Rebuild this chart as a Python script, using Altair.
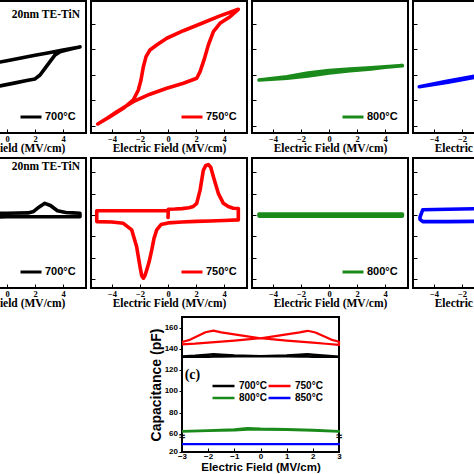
import altair as alt
import pandas as pd

SERIF = "Liberation Serif"
SANS = "Liberation Sans"

TEMPS = ["700°C", "750°C", "800°C", "850°C"]
COLORS = ["#000000", "#ff0000", "#1a8a1a", "#0000ff"]

# ---------------- P-E hysteresis loops (E in MV/cm, P in uC/cm^2) ----------------
# each loop is traced up the lower branch and back down the upper branch
PE700_E = [-5.2, -4.0, -3.0, -2.0, -1.0, -0.5, 0.5, 1.5, 2.0, 2.36, 2.71, 3.07, 3.43, 3.79, 4.26, 4.7, 5.21,
           4.0, 3.0, 2.0, 1.0, 0.0, -0.5, -1.5, -2.2, -2.6, -3.0, -3.4, -3.8, -4.5, -5.2]
PE700_P = [-20.0, -17.0, -14.5, -12.0, -9.7, -8.6, -6.4, -4.2, -3.1, 0.0, 5.2, 10.4, 15.7, 18.3, 19.6, 20.8, 22.0,
           19.5, 17.4, 15.4, 13.3, 11.2, 10.2, 7.5, 4.0, -1.0, -6.0, -11.0, -14.5, -17.5, -20.0]

PE750_E = [-5.02, -4.3, -3.66, -2.48, -1.29, -0.09, 1.1, 2.05, 2.29, 2.57, 2.88, 3.24, 3.71, 4.43, 5.02,
           3.71, 2.29, 1.1, -0.09, -0.81, -1.29, -1.57, -1.76, -1.93, -2.12, -2.48, -3.19, -4.14, -5.02]
PE750_P = [-38.4, -33.5, -28.8, -20.9, -15.1, -10.4, -6.5, -2.6, 2.6, 11.8, 23.5, 34.0, 40.5, 45.7, 51.5,
           46.3, 40.0, 34.7, 28.8, 23.5, 19.6, 14.4, 6.5, -3.9, -11.8, -19.6, -26.1, -32.7, -38.4]

PE800_E = [-5.0, -3.0, -1.5, 0.0, 1.5, 3.0, 4.0, 5.24, 4.0, 3.0, 1.5, 0.0, -1.5, -3.0, -5.0]
PE800_P = [-3.9, -2.6, -0.8, 1.6, 3.3, 4.8, 6.0, 7.3, 6.4, 5.6, 4.6, 3.4, 1.5, -1.5, -3.9]

PE850_E = [-5.05, -3.0, -1.0, 1.0, 3.0, 5.0, 3.0, 1.0, -1.0, -3.0, -5.05]
PE850_P = [-9.2, -5.6, -1.6, 2.6, 6.8, 10.8, 7.4, 3.4, -0.8, -4.8, -9.2]

# ---------------- switching current I-E (arb. units) ----------------
IE700_E = [-5.2, -4.0, -2.0, 0.0, 1.5, 1.9, 2.3, 2.7, 3.1, 3.6, 4.2, 4.7, 5.21,
           5.21, 4.0, 2.0, 0.0, -1.5, -1.9, -2.3, -2.7, -3.1, -3.6, -4.2, -5.2, -5.2]
IE700_I = [0.08, 0.08, 0.08, 0.08, 0.1, 0.17, 0.38, 0.55, 0.45, 0.2, 0.12, 0.1, 0.08,
           -0.08, -0.08, -0.08, -0.08, -0.1, -0.17, -0.38, -0.55, -0.45, -0.2, -0.12, -0.08, 0.08]

IE750_E = [0.0, 0.02, 0.5, 1.0, 1.5, 1.8, 2.05, 2.29, 2.52, 2.7, 2.88, 3.05, 3.24, 3.59, 3.95, 4.3, 4.66, 5.02,
           5.02, 4.0, 3.0, 2.0, 1.0, 0.0, -0.5, -0.81, -1.0, -1.16, -1.35, -1.52, -1.65, -1.76, -1.88, -2.0,
           -2.24, -2.59, -3.19, -4.0, -5.09, -5.09, -4.0, -2.0, -0.02]
IE750_I = [-0.12, 0.27, 0.28, 0.3, 0.34, 0.4, 0.55, 1.17, 2.1, 2.33, 2.37, 2.25, 1.8, 1.02, 0.55, 0.4, 0.32, 0.31,
           -0.23, -0.26, -0.28, -0.3, -0.33, -0.37, -0.45, -0.7, -1.1, -1.64, -2.2, -2.58, -2.85, -2.97, -2.85, -2.43,
           -1.49, -0.7, -0.39, -0.33, -0.31, 0.2, 0.2, 0.2, 0.2]

IE800_E = [-5.0, 0.0, 5.24, 5.24, 0.0, -5.0, -5.0]
IE800_I = [0.05, 0.05, 0.05, -0.05, -0.05, -0.05, 0.05]

IE850_E = [-5.0, -4.8, -3.0, -1.0, 1.0, 3.0, 5.0, 5.0, 3.0, 1.0, -1.0, -3.0, -4.8, -5.0, -5.0]
IE850_I = [-0.1, 0.25, 0.27, 0.3, 0.32, 0.34, 0.35, -0.28, -0.29, -0.3, -0.3, -0.31, -0.31, -0.2, -0.1]

# ---------------- C-E butterfly curves (pF), forward then reverse sweep ----------------
CV_E = [-3.0, -2.5, -2.0, -1.8, -1.5, -1.0, 0.0, 1.0, 1.5, 1.8, 2.0, 2.5, 3.0,
        3.0, 2.5, 2.0, 1.8, 1.5, 1.0, 0.0, -1.0, -1.5, -1.8, -2.0, -2.5, -3.0]
CV700_C = [133.0, 133.6, 134.6, 135.0, 134.6, 133.8, 133.2, 132.8, 132.7, 132.6, 132.5, 132.4, 132.3,
           132.6, 133.6, 134.6, 135.0, 134.6, 133.8, 133.2, 132.8, 132.7, 132.6, 132.5, 132.4, 132.4]

CV750_E = [-3.0, -2.7, -2.4, -2.1, -1.8, -1.5, -1.0, -0.5, 0.0, 0.5, 1.0, 1.5, 2.0, 2.5, 3.0,
           3.0, 2.7, 2.4, 2.1, 1.8, 1.5, 1.0, 0.5, 0.0, -0.5, -1.0, -1.5, -2.0, -2.5, -3.0]
CV750_C = [146.4, 148.5, 152.0, 155.6, 157.1, 155.5, 153.6, 151.8, 150.0, 148.9, 147.8, 146.8, 145.8, 144.8, 143.8,
           146.7, 148.7, 152.0, 155.4, 157.0, 155.5, 153.6, 151.8, 150.0, 148.9, 147.8, 146.8, 145.8, 144.9, 144.3]

CV800_E = [-3.0, -2.0, -1.0, -0.5, 0.0, 1.0, 2.0, 3.0, 3.0, 2.0, 1.0, 0.0, -0.5, -1.0, -2.0, -3.0]
CV800_C = [62.5, 63.2, 64.2, 65.4, 64.8, 64.4, 63.6, 62.6, 62.0, 63.0, 63.6, 63.8, 63.9, 63.2, 62.6, 62.0]

CV850_E = [-3.0, 0.0, 3.0, 3.0, 0.0, -3.0]
CV850_C = [40.2, 40.2, 40.2, 39.9, 39.9, 39.9]

CV_TICKS = [20, 60, 80, 100, 120, 140, 160]
CV_FIELD_TICKS = [-3, -2, -1, 0, 1, 2, 3]

# ---------------- layout ----------------
PANEL_W = 156
E_DOMAIN = [-5.5, 5.64]
E_TICKS = [-4, -2, 0, 2, 4]

P_DOMAIN = [-45.5, 58]
P_TICKS = [-40, -20, 0, 20, 40]
ROW1_H = 132

I_DOMAIN = [-3.43, 2.68]
I_TICKS = [-3, -2, -1, 0, 1, 2]
ROW2_H = 130

CV_W, CV_H = 157, 135
CV_DOMAIN = [20, 56, 170]          # broken axis: compressed below the break
CV_RANGE = [CV_H, 121, 0]

TAG = "20nm TE-TiN"
TAG_E, TAG_P, TAG_I = 5.21, 47, 2.27


def field_axis(height, font, label_size, title_size, values, label_pad, title_pad):
    # inward tick marks are drawn as short dashes of the grid at the bottom edge
    return alt.Axis(
        values=values, tickCount=len(values), format="d", title="Electric Field (MV/cm)",
        labelFont=font, labelFontWeight="bold", labelFontSize=label_size, labelColor="black",
        labelPadding=label_pad, labelFlush=False, labelOverlap=False,
        titleFont=font, titleFontWeight="bold", titleFontSize=title_size, titleColor="black",
        titlePadding=title_pad,
        domain=False, ticks=False,
        grid=True, gridColor="black", gridWidth=1,
        gridDash=[4, height - 4], gridDashOffset=4,
    )


def loop_panel(E, Y, temp, y_domain, y_ticks, height, legend_offset, tag_y=None):
    color = COLORS[TEMPS.index(temp)]
    df = pd.DataFrame({"E": E, "Y": Y, "step": list(range(len(E))), "T": temp})
    curve = alt.Chart(df).mark_line(strokeWidth=3.6, strokeJoin="round", strokeCap="round").encode(
        x=alt.X("E:Q", scale=alt.Scale(domain=E_DOMAIN, nice=False, zero=False),
                axis=field_axis(height, SERIF, 8.5, 11.5, E_TICKS, 1, 0)),
        y=alt.Y("Y:Q", scale=alt.Scale(domain=y_domain, nice=False, zero=False),
                axis=alt.Axis(values=y_ticks, tickCount=len(y_ticks), title=None, labels=False,
                              domain=False, ticks=False,
                              grid=True, gridColor="black", gridWidth=1, gridDash=[4, 400])),
        order="step:Q",
        color=alt.Color("T:N", scale=alt.Scale(domain=[temp], range=[color]),
                        legend=alt.Legend(title=None, orient="bottom-right", offset=legend_offset, padding=0,
                                          symbolType="stroke", symbolSize=441, symbolStrokeWidth=3,
                                          labelFont=SANS, labelFontWeight="bold", labelFontSize=11,
                                          labelColor="black", labelOffset=2)),
    )
    layers = [curve]
    if tag_y is not None:
        tag = alt.Chart(pd.DataFrame({"E": [TAG_E], "Y": [tag_y], "t": [TAG]})).mark_text(
            align="right", baseline="middle", font=SERIF, fontWeight="bold", fontSize=11.5, color="black"
        ).encode(x="E:Q", y="Y:Q", text="t:N")
        layers.append(tag)
    return alt.layer(*layers).properties(width=PANEL_W, height=height)


def cv_panel():
    df = pd.concat([
        pd.DataFrame({"E": CV_E, "C": CV700_C, "T": TEMPS[0]}),
        pd.DataFrame({"E": CV750_E, "C": CV750_C, "T": TEMPS[1]}),
        pd.DataFrame({"E": CV800_E, "C": CV800_C, "T": TEMPS[2]}),
        pd.DataFrame({"E": CV850_E, "C": CV850_C, "T": TEMPS[3]}),
    ])
    df["step"] = df.groupby("T").cumcount()
    x_scale = alt.Scale(domain=[-3, 3], nice=False, zero=False)
    y_scale = alt.Scale(domain=CV_DOMAIN, range=CV_RANGE, nice=False, zero=False)
    curves = alt.Chart(df).mark_line(strokeWidth=2.2, strokeJoin="round").encode(
        x=alt.X("E:Q", scale=x_scale, axis=field_axis(CV_H, SANS, 8, 11.5, CV_FIELD_TICKS, 0, 1)),
        y=alt.Y("C:Q", scale=y_scale,
                axis=alt.Axis(values=CV_TICKS, tickCount=len(CV_TICKS), title="Capacitance (pF)",
                              labels=False, tickSize=3, tickColor="black",
                              domain=False, grid=False,
                              titleFont=SANS, titleFontWeight="bold", titleFontSize=14,
                              titleColor="black", titlePadding=15)),
        order="step:Q",
        color=alt.Color("T:N", sort=TEMPS, scale=alt.Scale(domain=TEMPS, range=COLORS),
                        legend=alt.Legend(title=None, orient="none", legendX=29, legendY=62, columns=2,
                                          direction="horizontal",
                                          padding=0, columnPadding=-9, rowPadding=0,
                                          symbolType="M-1,0H3", symbolSize=121, symbolStrokeWidth=2.5,
                                          labelFont=SANS, labelFontWeight="bold", labelFontSize=10,
                                          labelColor="black", labelOffset=14)),
    )
    # capacitance tick labels on the broken axis
    tick_labels = alt.Chart(pd.DataFrame({"E": [-3] * len(CV_TICKS), "C": CV_TICKS})).mark_text(
        font=SANS, fontWeight="bold", fontSize=8, color="black", align="right", baseline="middle", dx=-4
    ).encode(x="E:Q", y="C:Q", text=alt.Text("C:Q", format="d"))
    label = alt.Chart(pd.DataFrame({"E": [-2.6], "C": [115], "t": ["(c)"]})).mark_text(
        font=SERIF, fontWeight="bold", fontSize=14, color="black", baseline="middle"
    ).encode(x="E:Q", y="C:Q", text="t:N")
    breaks = alt.Chart(pd.DataFrame({"E": [-3, 3], "C": [57, 57], "t": ["≈", "≈"]})).mark_text(
        font=SANS, fontWeight="bold", fontSize=11, color="black", baseline="middle"
    ).encode(x="E:Q", y="C:Q", text="t:N")
    return alt.layer(curves, tick_labels, label, breaks).properties(width=CV_W, height=CV_H)


def independent(ch):
    return ch.resolve_scale(color="independent").resolve_legend(color="independent")


row1 = independent(alt.hconcat(
    loop_panel(PE700_E, PE700_P, TEMPS[0], P_DOMAIN, P_TICKS, ROW1_H, 10, TAG_P),
    loop_panel(PE750_E, PE750_P, TEMPS[1], P_DOMAIN, P_TICKS, ROW1_H, 10),
    loop_panel(PE800_E, PE800_P, TEMPS[2], P_DOMAIN, P_TICKS, ROW1_H, 10),
    loop_panel(PE850_E, PE850_P, TEMPS[3], P_DOMAIN, P_TICKS, ROW1_H, 10),
    spacing=3,
))

row2 = independent(alt.hconcat(
    loop_panel(IE700_E, IE700_I, TEMPS[0], I_DOMAIN, I_TICKS, ROW2_H, 10, TAG_I),
    loop_panel(IE750_E, IE750_I, TEMPS[1], I_DOMAIN, I_TICKS, ROW2_H, 10),
    loop_panel(IE800_E, IE800_I, TEMPS[2], I_DOMAIN, I_TICKS, ROW2_H, 10),
    loop_panel(IE850_E, IE850_I, TEMPS[3], I_DOMAIN, I_TICKS, ROW2_H, 10),
    spacing=3,
))

spacer = alt.Chart(pd.DataFrame({"v": [0]})).mark_point(opacity=0).properties(
    width=217, height=10, view=alt.ViewBackground(stroke="transparent"))

row3 = independent(alt.hconcat(spacer, cv_panel(), spacing=0))

loops = independent(alt.vconcat(row1, row2, spacing=2))

chart = independent(alt.vconcat(loops, row3, spacing=6)).properties(
    padding={"left": -71, "right": -96, "top": 0, "bottom": 0},
    background="white",
).configure_view(stroke="black", strokeWidth=2)

chart.save("out.html", embed_options={"renderer": "svg", "actions": False})
